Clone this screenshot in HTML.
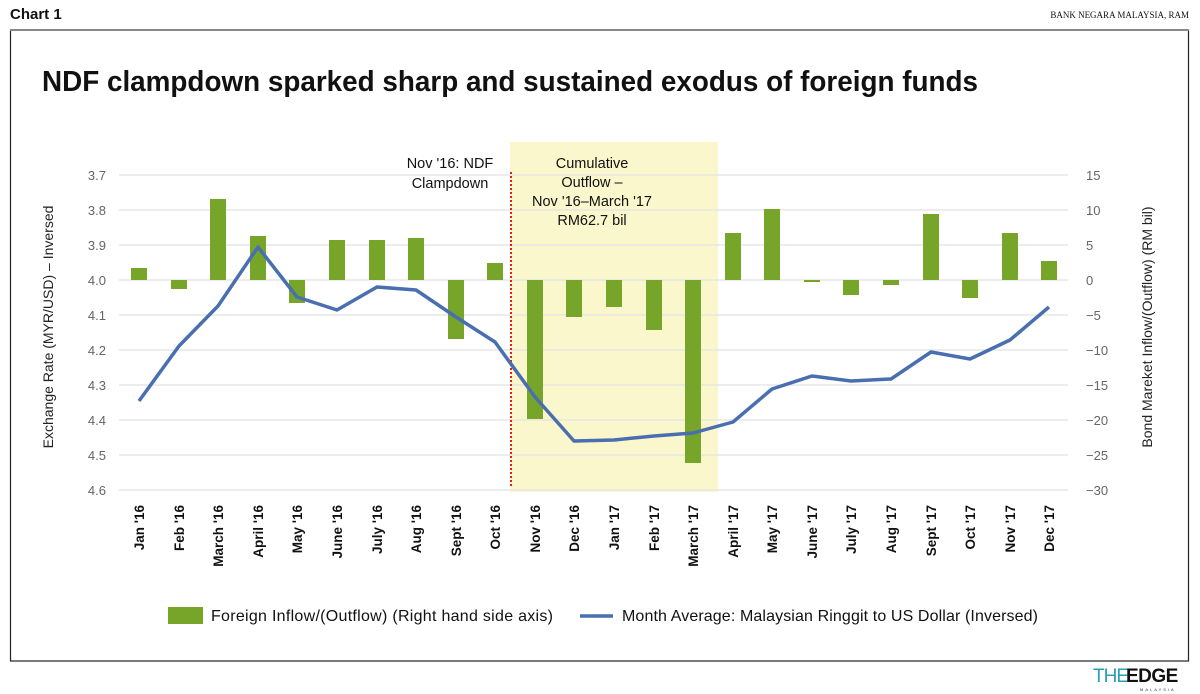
<!DOCTYPE html>
<html><head><meta charset="utf-8"><style>
body{margin:0;background:#fff;}
svg{display:block;font-family:"Liberation Sans",sans-serif;}
</style></head><body>
<svg width="1200" height="694" viewBox="0 0 1200 694">
<text x="10" y="19" font-size="15" font-weight="bold" fill="#111">Chart 1</text>
<text x="1189" y="18" font-size="9" font-family="Liberation Serif" text-anchor="end" fill="#111">BANK NEGARA MALAYSIA, RAM</text>
<rect x="10.5" y="30" width="1178" height="631" fill="none" stroke="#222" stroke-width="1.2"/>
<line x1="10" y1="30" x2="1189" y2="30" stroke="#888" stroke-width="2"/>
<text x="42" y="91" font-size="29" font-weight="bold" fill="#111" textLength="936" lengthAdjust="spacingAndGlyphs">NDF clampdown sparked sharp and sustained exodus of foreign funds</text>
<rect x="510" y="142" width="208" height="350" fill="#fbf7cc"/>
<g stroke="#e2e2e2" stroke-width="1.3">
<line x1="119" x2="1068" y1="175" y2="175"/><line x1="119" x2="1068" y1="210" y2="210"/>
<line x1="119" x2="1068" y1="245" y2="245"/><line x1="119" x2="1068" y1="280" y2="280"/>
<line x1="119" x2="1068" y1="315" y2="315"/><line x1="119" x2="1068" y1="350" y2="350"/>
<line x1="119" x2="1068" y1="385" y2="385"/><line x1="119" x2="1068" y1="420" y2="420"/>
<line x1="119" x2="1068" y1="455" y2="455"/><line x1="119" x2="1068" y1="490" y2="490"/>
</g>
<g font-size="13" fill="#666" text-anchor="end">
<text x="106" y="180">3.7</text><text x="106" y="215">3.8</text><text x="106" y="250">3.9</text><text x="106" y="285">4.0</text><text x="106" y="320">4.1</text><text x="106" y="355">4.2</text><text x="106" y="390">4.3</text><text x="106" y="425">4.4</text><text x="106" y="460">4.5</text><text x="106" y="495">4.6</text>
</g>
<g font-size="13" fill="#666">
<text x="1086" y="180">15</text><text x="1086" y="215">10</text><text x="1086" y="250">5</text><text x="1086" y="285">0</text><text x="1086" y="320">−5</text><text x="1086" y="355">−10</text><text x="1086" y="390">−15</text><text x="1086" y="425">−20</text><text x="1086" y="460">−25</text><text x="1086" y="495">−30</text>
</g>
<text transform="translate(53,327) rotate(-90)" font-size="14" fill="#222" text-anchor="middle">Exchange Rate (MYR/USD) – Inversed</text>
<text transform="translate(1152,327) rotate(-90)" font-size="14" fill="#222" text-anchor="middle">Bond Mareket Inflow/(Outflow) (RM bil)</text>
<g fill="#76a52a">
<rect x="131" y="268" width="16" height="12"/><rect x="171" y="280" width="16" height="9"/>
<rect x="210" y="199" width="16" height="81"/><rect x="250" y="236" width="16" height="44"/>
<rect x="289" y="280" width="16" height="23"/><rect x="329" y="240" width="16" height="40"/>
<rect x="369" y="240" width="16" height="40"/><rect x="408" y="238" width="16" height="42"/>
<rect x="448" y="280" width="16" height="59"/><rect x="487" y="263" width="16" height="17"/>
<rect x="527" y="280" width="16" height="139"/><rect x="566" y="280" width="16" height="37"/>
<rect x="606" y="280" width="16" height="27"/><rect x="646" y="280" width="16" height="50"/>
<rect x="685" y="280" width="16" height="183"/><rect x="725" y="233" width="16" height="47"/>
<rect x="764" y="209" width="16" height="71"/><rect x="804" y="280" width="16" height="2"/>
<rect x="843" y="280" width="16" height="15"/><rect x="883" y="280" width="16" height="5"/>
<rect x="923" y="214" width="16" height="66"/><rect x="962" y="280" width="16" height="18"/>
<rect x="1002" y="233" width="16" height="47"/><rect x="1041" y="261" width="16" height="19"/>
</g>
<line x1="511" y1="172" x2="511" y2="486" stroke="#e02020" stroke-width="2" stroke-dasharray="2,2"/>
<polyline fill="none" stroke="#4a6fb0" stroke-width="3.5" stroke-linejoin="round" points="139,401 179,346 218,306 258,247 297,297 337,310 377,287 416,290 456,317 495,342 535,397 574,441 614,440 654,436 693,433 733,422 772,389 812,376 851,381 891,379 931,352 970,359 1010,340 1049,307"/>
<g font-size="14.5" fill="#111" text-anchor="middle">
<text x="450" y="168">Nov '16: NDF</text><text x="450" y="188">Clampdown</text>
<text x="592" y="168">Cumulative</text><text x="592" y="187">Outflow –</text><text x="592" y="206">Nov '16–March '17</text><text x="592" y="225">RM62.7 bil</text>
</g>
<g font-size="13.5" font-weight="bold" fill="#111" text-anchor="end">
<text transform="translate(144,505) rotate(-90)">Jan '16</text>
<text transform="translate(184,505) rotate(-90)">Feb '16</text>
<text transform="translate(223,505) rotate(-90)">March '16</text>
<text transform="translate(263,505) rotate(-90)">April '16</text>
<text transform="translate(302,505) rotate(-90)">May '16</text>
<text transform="translate(342,505) rotate(-90)">June '16</text>
<text transform="translate(382,505) rotate(-90)">July '16</text>
<text transform="translate(421,505) rotate(-90)">Aug '16</text>
<text transform="translate(461,505) rotate(-90)">Sept '16</text>
<text transform="translate(500,505) rotate(-90)">Oct '16</text>
<text transform="translate(540,505) rotate(-90)">Nov '16</text>
<text transform="translate(579,505) rotate(-90)">Dec '16</text>
<text transform="translate(619,505) rotate(-90)">Jan '17</text>
<text transform="translate(659,505) rotate(-90)">Feb '17</text>
<text transform="translate(698,505) rotate(-90)">March '17</text>
<text transform="translate(738,505) rotate(-90)">April '17</text>
<text transform="translate(777,505) rotate(-90)">May '17</text>
<text transform="translate(817,505) rotate(-90)">June '17</text>
<text transform="translate(856,505) rotate(-90)">July '17</text>
<text transform="translate(896,505) rotate(-90)">Aug '17</text>
<text transform="translate(936,505) rotate(-90)">Sept '17</text>
<text transform="translate(975,505) rotate(-90)">Oct '17</text>
<text transform="translate(1015,505) rotate(-90)">Nov '17</text>
<text transform="translate(1054,505) rotate(-90)">Dec '17</text>
</g>
<rect x="168" y="607" width="35" height="17" fill="#76a52a"/>
<text x="211" y="621" font-size="16" fill="#111" textLength="342">Foreign Inflow/(Outflow) (Right hand side axis)</text>
<line x1="580" y1="616" x2="613" y2="616" stroke="#4a6fb0" stroke-width="3.5"/>
<text x="622" y="621" font-size="16" fill="#111" textLength="416">Month Average: Malaysian Ringgit to US Dollar (Inversed)</text>
<text x="1093" y="682" font-size="19" fill="#2a9fb5" letter-spacing="-1">THE</text>
<text x="1126" y="682" font-size="19" font-weight="bold" fill="#111" letter-spacing="-0.5">EDGE</text>
<text x="1140" y="691" font-size="4" fill="#333" letter-spacing="2">MALAYSIA</text>
</svg>
</body></html>
